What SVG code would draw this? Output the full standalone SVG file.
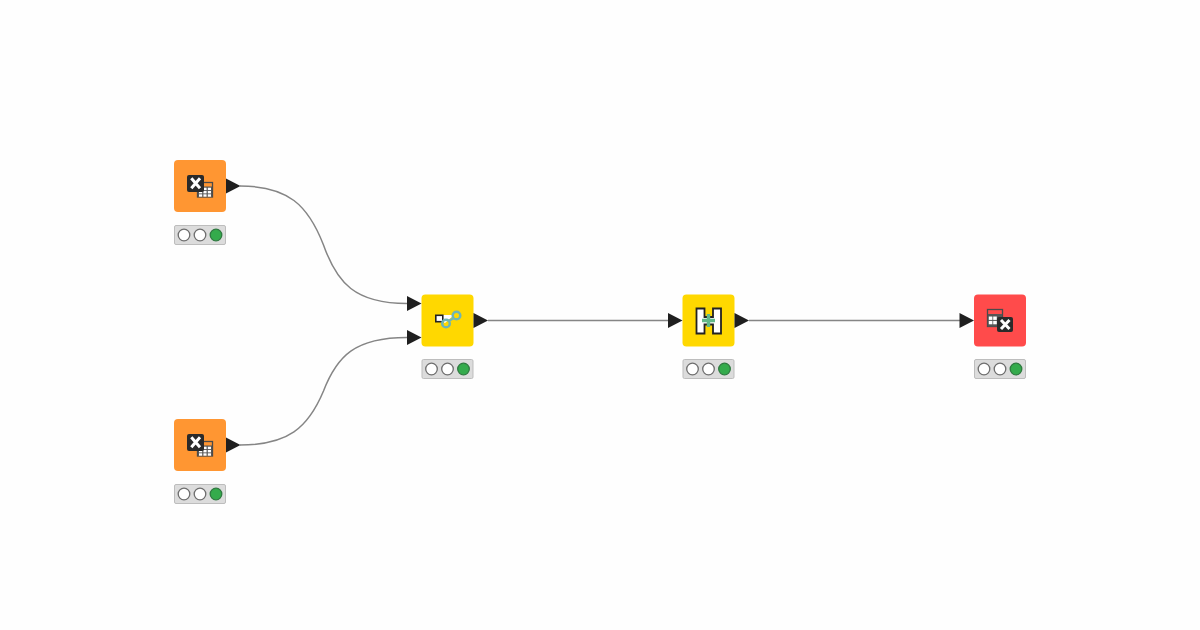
<svg xmlns="http://www.w3.org/2000/svg" width="1200" height="630" viewBox="0 0 1200 630">
<style>
.conn{fill:none;stroke:#858585;stroke-width:1.5}
.port{fill:#1f1f1f}
.body{stroke:none}
.reader{fill:#ff9632}
.manip{fill:#ffd800}
.writer{fill:#ff4b4b}
.status{fill:#dcdcdc;stroke:#bdbdbd;stroke-width:1}
.off{fill:#fff;stroke:#6e6e6e;stroke-width:1.3}
.on{fill:#34ab4c;stroke:#2f7a40;stroke-width:1.3}
.dark{fill:#2a2a2a}
.x{stroke:#fff;stroke-width:3;fill:none}
.grid{fill:#fff}
</style>
<defs>
<g id="ports"><polygon class="port" points="0,-7.500 14.500,0 0,7.500"/></g>
<g id="traffic">
<rect class="status" x="0.500" y="0.500" width="51" height="19" rx="1.500"/>
<circle class="off" cx="10" cy="10" r="5.800"/>
<circle class="off" cx="26" cy="10" r="5.800"/>
<circle class="on" cx="42" cy="10" r="5.800"/>
</g>
<g id="readIcon">
<rect x="23.500" y="22.500" width="15" height="14.500" fill="#ff9632" stroke="#4a4a4a" stroke-width="1.300"/>
<rect x="24" y="26.500" width="14" height="10" fill="#555"/>
<g class="grid"><rect x="25" y="31" width="3.200" height="2.400"/><rect x="29.400" y="31" width="3.200" height="2.400"/><rect x="33.800" y="31" width="3.200" height="2.400"/><rect x="25" y="34.300" width="3.200" height="2.400"/><rect x="29.400" y="34.300" width="3.200" height="2.400"/><rect x="33.800" y="34.300" width="3.200" height="2.400"/><rect x="29.400" y="27.700" width="3.200" height="2.400"/><rect x="33.800" y="27.700" width="3.200" height="2.400"/></g>
<rect class="dark" x="13" y="15" width="17" height="17" rx="2"/>
<path class="x" d="M17.300 18.300L26 28.300M26 18.300L17.300 28.300"/>
</g>
</defs>
<rect width="1200" height="630" fill="#fefefe"/>
<g id="connectors">
<path class="conn" d="M240 186C288 186 308 205 323.500 245C337 283 355 303.500 407 303.500"/>
<path class="conn" d="M240 445C288 445 308 428 323.500 391C337 356 355 337.500 407 337.500"/>
<path class="conn" d="M488 320.500H668"/>
<path class="conn" d="M749 320.500H960"/>
</g>
<g id="excel-reader-1">
<rect class="body reader" x="174" y="160" width="52" height="52" rx="4"/>
<use href="#readIcon" x="174" y="160"/>
<use href="#ports" x="226" y="186"/>
<use href="#traffic" x="174" y="225"/>
</g>
<g id="excel-reader-2">
<rect class="body reader" x="174" y="419" width="52" height="52" rx="4"/>
<use href="#readIcon" x="174" y="419"/>
<use href="#ports" x="226" y="445"/>
<use href="#traffic" x="174" y="484"/>
</g>
<g id="column-link">
<rect class="body manip" x="421.500" y="294.500" width="52" height="52" rx="4"/>
<use href="#ports" x="407" y="303.500"/>
<use href="#ports" x="407" y="337.500"/>
<use href="#ports" x="473.500" y="320.500"/>
<polygon points="442,315 454,315 445,323 442,321.500" fill="#fff"/>
<rect x="435.800" y="315.300" width="7" height="6.400" fill="#fff" stroke="#222" stroke-width="1.600"/>
<g fill="none" stroke="#6fb5b5" stroke-width="2.500">
<circle cx="456.500" cy="315.500" r="3.800"/>
<circle cx="446" cy="323.500" r="3.800"/>
<path d="M448.500 321L454 318"/>
</g>
<use href="#traffic" x="421.500" y="359"/>
</g>
<g id="column-aggregator">
<rect class="body manip" x="682.500" y="294.500" width="52" height="52" rx="4"/>
<use href="#ports" x="668" y="320.500"/>
<use href="#ports" x="734.500" y="320.500"/>
<path d="M696.500 308.500H704.500V317H713V308.500H721V333.500H713V324.500H704.500V333.500H696.500Z" fill="#fff" stroke="#222" stroke-width="1.800"/>
<path d="M702 320.500H715M708.500 314V327" stroke="#62b88a" stroke-width="3.400" fill="none"/>
<use href="#traffic" x="682.500" y="359"/>
</g>
<g id="excel-writer">
<rect class="body writer" x="974" y="294.500" width="52" height="52" rx="4"/>
<use href="#ports" x="959.500" y="320.500"/>
<rect x="987.500" y="309.500" width="15" height="17" fill="#ff4b4b" stroke="#4a4a4a" stroke-width="1.300"/>
<rect x="988" y="314" width="14" height="12.500" fill="#555"/>
<g class="grid"><rect x="988.800" y="316.500" width="3.600" height="3.400"/><rect x="993.200" y="316.500" width="3.600" height="3.400"/><rect x="988.800" y="320.900" width="3.600" height="3.400"/><rect x="993.200" y="320.900" width="3.600" height="3.400"/></g>
<rect class="dark" x="997" y="317" width="16" height="15" rx="2"/>
<path class="x" d="M1001 320L1009.500 329M1009.500 320L1001 329"/>
<use href="#traffic" x="974" y="359"/>
</g>
</svg>
